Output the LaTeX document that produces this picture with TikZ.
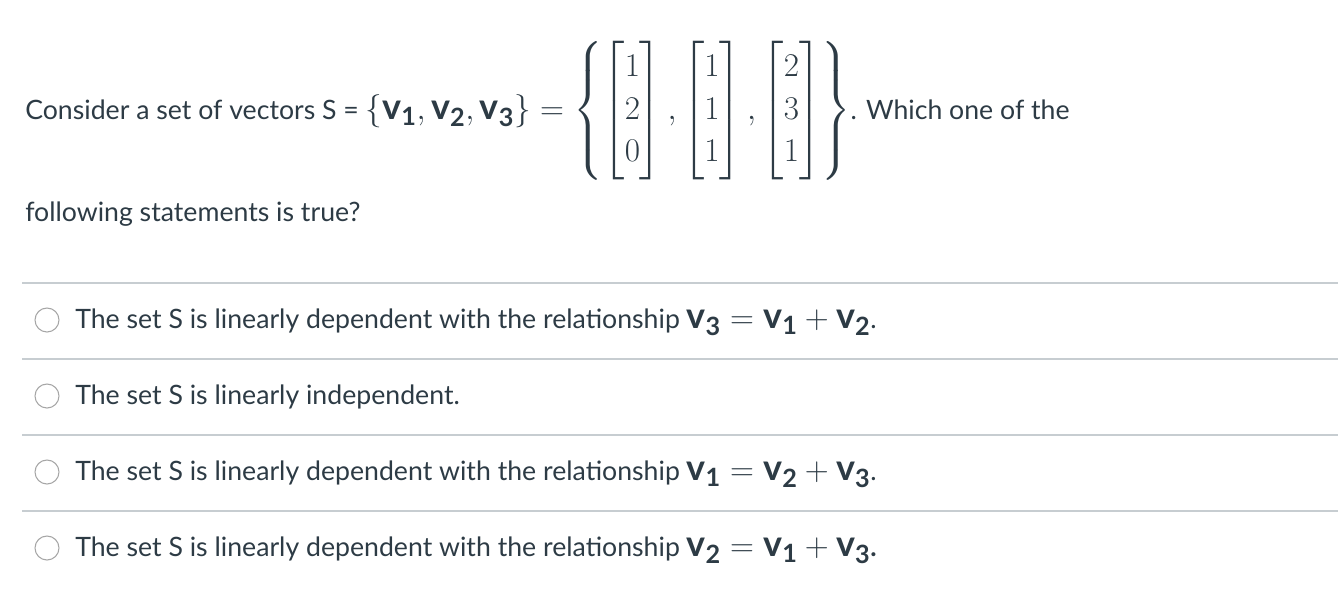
\documentclass[tikz,border=0pt]{standalone}
\usepackage{amsmath}
\usepackage{fontspec}
\setmainfont{Lato}
\definecolor{txt}{HTML}{2D3B45}
\definecolor{rule}{HTML}{C7CDD1}
\newcommand{\mybigmath}[1]{{\fontsize{27}{32}\selectfont #1}}
\begin{document}
\begin{tikzpicture}[x=0.75pt,y=-0.75pt,
  lab/.style={anchor=base west,inner sep=0,text=txt,font=\fontsize{20}{24}\selectfont},
  sep/.style={draw=rule,line width=0.8pt},
  radio/.style={circle,draw=gray!70,fill=white,minimum size=18pt,inner sep=0,line width=0.8pt}]
\useasboundingbox (0,0) rectangle (1338,594);
\node[lab] (q1) at (25,119) {Consider a set of vectors S = \mybigmath{$\{\mathbf{v_1},\mathbf{v_2},\mathbf{v_3}\}=\left\{\begin{bmatrix}1\\2\\0\end{bmatrix},\begin{bmatrix}1\\1\\1\end{bmatrix},\begin{bmatrix}2\\3\\1\end{bmatrix}\right\}$}. Which one of the};
\node[lab] (q2) at (25,221) {following statements is true?};
\foreach \y/\n in {283/l1,359/l2,435/l3,511/l4}{
  \coordinate (\n a) at (22,\y); \coordinate (\n b) at (1338,\y);
  \draw[sep] (\n a) -- (\n b);}
\node[radio] (r1) at (47,320) {};
\node[radio] (r2) at (47,396) {};
\node[radio] (r3) at (47,472) {};
\node[radio] (r4) at (47,548) {};
\node[lab] (o1) at (75,328) {The set S is linearly dependent with the relationship \mybigmath{$\mathbf{v_3}=\mathbf{v_1}+\mathbf{v_2}$}.};
\node[lab] (o2) at (75,404) {The set S is linearly independent.};
\node[lab] (o3) at (75,480) {The set S is linearly dependent with the relationship \mybigmath{$\mathbf{v_1}=\mathbf{v_2}+\mathbf{v_3}$}.};
\node[lab] (o4) at (75,556) {The set S is linearly dependent with the relationship \mybigmath{$\mathbf{v_2}=\mathbf{v_1}+\mathbf{v_3}$}\textbf{.}};
\end{tikzpicture}
\end{document}
